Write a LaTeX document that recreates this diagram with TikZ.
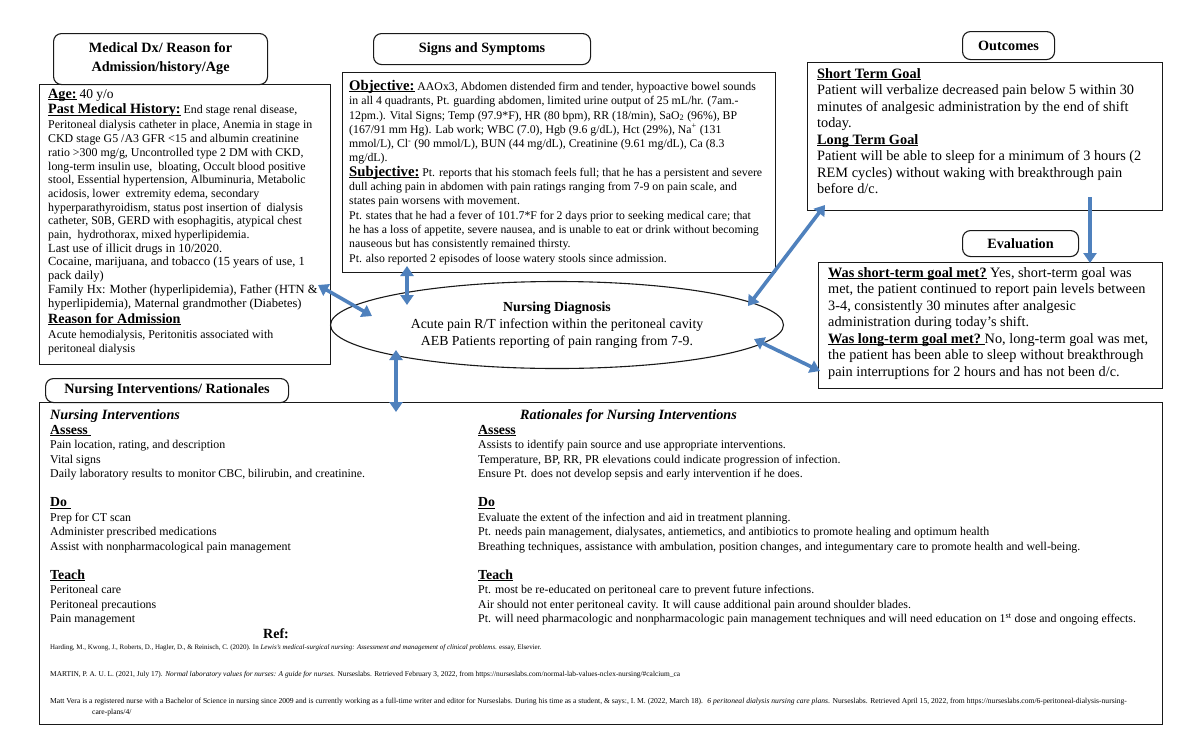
\documentclass[tikz,border=0pt]{standalone}
\usepackage{fontspec}
\setmainfont{Liberation Serif}
\usetikzlibrary{arrows.meta,shapes.geometric}
\definecolor{arrowblue}{RGB}{79,129,189}
\definecolor{ink}{RGB}{25,25,25}
\newcommand{\fsz}[2]{\fontsize{#1}{#2}\selectfont}
\newcommand{\ulin}[1]{{\setbox0\hbox{#1}\rlap{\rule[-1.7pt]{\wd0}{0.8pt}}\box0}}
\newcommand{\hdg}[1]{\ulin{\textbf{#1}}}
\begin{document}
\begin{tikzpicture}[x=1pt,y=-1pt,
  box/.style={draw=ink,line width=1.3pt,anchor=north west,inner sep=0pt},
  titlebox/.style={draw=ink,fill=white,line width=1.1pt,rounded corners=8pt,anchor=north west,inner sep=0pt,align=center,font=\bfseries\fsz{14.2}{19}},
  txt/.style={anchor=north west,inner sep=0pt,align=left,text=black},
  link/.style={draw=arrowblue,line width=3.6pt,{Triangle[width=13pt,length=10pt]}-{Triangle[width=13pt,length=10pt]}},
  onelink/.style={draw=arrowblue,line width=3.6pt,-{Triangle[width=13pt,length=10pt]}}
]
\useasboundingbox[fill=white] (0,0) rectangle (1200,729);

% ---------- boxes ----------
\node[box,minimum width=291pt,minimum height=280pt] (hist) at (39,84) {};
\node[box,minimum width=433pt,minimum height=200pt] (signs) at (342,72) {};
\node[box,minimum width=355pt,minimum height=148pt] (outc) at (807,62) {};
\node[box,minimum width=344pt,minimum height=126pt] (evalb) at (818,262) {};
\node[box,minimum width=1123pt,minimum height=322pt] (inter) at (39,402) {};

% ---------- titles ----------
\node[titlebox,minimum width=214pt,minimum height=51pt] (thist) at (53,33) {Medical Dx/ Reason for\\Admission/history/Age};
\node[titlebox,minimum width=217pt,minimum height=31pt] (tsigns) at (373,33) {Signs and Symptoms};
\node[titlebox,minimum width=92pt,minimum height=28pt] (toutc) at (962,31) {Outcomes};
\node[titlebox,minimum width=116pt,minimum height=26pt] (teval) at (962,230) {Evaluation};
\node[titlebox,minimum width=243pt,minimum height=24pt] (tinter) at (45,378) {Nursing Interventions/ Rationales};

% ---------- diagnosis ----------
\node[draw=ink,line width=1.1pt,ellipse,minimum width=453pt,minimum height=87pt,inner sep=0pt,align=center,font=\fsz{13.8}{17}] (dx) at (557,325)
  {\textbf{Nursing Diagnosis}\\Acute pain R/T infection within the peritoneal cavity\\AEB Patients reporting of pain ranging from 7-9.};

% ---------- history text ----------
\node[txt,font=\fsz{11.9}{13.7}] (histtxt) at (48,89) {%
{\fsz{14.2}{13.7}\hdg{Age:}} {\fsz{13.5}{13.7}40 y/o}\\[1.5pt]
{\fsz{14.2}{13.7}\hdg{Past Medical History:}} End stage renal disease,\\[1.5pt]
Peritoneal dialysis catheter in place, Anemia in stage in\\
CKD stage G5 /A3 GFR <15 and albumin creatinine\\
ratio >300 mg/g, Uncontrolled type 2 DM with CKD,\\
long-term insulin use,\ \ bloating, Occult blood positive\\
stool, Essential hypertension, Albuminuria, Metabolic\\
acidosis, lower\ \ extremity edema, secondary\\
hyperparathyroidism, status post insertion of\ \ dialysis\\
catheter, S0B, GERD with esophagitis, atypical chest\\
pain,\ \ hydrothorax, mixed hyperlipidemia.\\
{\fsz{12.4}{13.7}Last use of illicit drugs in 10/2020.}\\
{\fsz{12.4}{13.7}Cocaine, marijuana, and tobacco (15 years of use, 1}\\
{\fsz{12.4}{13.7}pack daily)}\\
{\fsz{12.5}{13.7}Family Hx: Mother (hyperlipidemia), Father (HTN \&}\\
{\fsz{12.5}{13.7}hyperlipidemia), Maternal grandmother (Diabetes)}\\[2.5pt]
{\fsz{14.1}{13.7}\hdg{Reason for Admission}}\\[1.5pt]
{\fsz{11.9}{13.7}Acute hemodialysis, Peritonitis associated with}\\
{\fsz{11.9}{13.7}peritoneal dialysis}};

% ---------- signs text ----------
\node[txt,font=\fsz{11.8}{14.3}] (signstxt) at (349,80) {%
{\fsz{14.7}{14.3}\hdg{Objective:}} AAOx3, Abdomen distended firm and tender, hypoactive bowel sounds\\
in all 4 quadrants, Pt. guarding abdomen, limited urine output of 25 mL/hr. (7am.-\\
12pm.). Vital Signs; Temp (97.9*F), HR (80 bpm), RR (18/min), SaO\textsubscript{2} (96\%), BP\\
(167/91 mm Hg). Lab work; WBC (7.0), Hgb (9.6 g/dL), Hct (29\%), Na\textsuperscript{+} (131\\
mmol/L), Cl\textsuperscript{-} (90 mmol/L), BUN (44 mg/dL), Creatinine (9.61 mg/dL), Ca (8.3\\
mg/dL).\\
{\fsz{14.7}{14.3}\hdg{Subjective:}} Pt. reports that his stomach feels full; that he has a persistent and severe\\
dull aching pain in abdomen with pain ratings ranging from 7-9 on pain scale, and\\
states pain worsens with movement.\\
Pt. states that he had a fever of 101.7*F for 2 days prior to seeking medical care; that\\
he has a loss of appetite, severe nausea, and is unable to eat or drink without becoming\\
nauseous but has consistently remained thirsty.\\
Pt. also reported 2 episodes of loose watery stools since admission.};

% ---------- outcomes text ----------
\node[txt,font=\fsz{14.3}{16.5}] (outctxt) at (817,68) {%
\hdg{Short Term Goal}\\
Patient will verbalize decreased pain below 5 within 30\\
minutes of analgesic administration by the end of shift\\
today.\\
\hdg{Long Term Goal}\\
Patient will be able to sleep for a minimum of 3 hours (2\\
REM cycles) without waking with breakthrough pain\\
before d/c.};

% ---------- evaluation text ----------
\node[txt,font=\fsz{14.3}{16.5}] (evaltxt) at (828,267) {%
\hdg{Was short-term goal met?} Yes, short-term goal was\\
met, the patient continued to report pain levels between\\
3-4, consistently 30 minutes after analgesic\\
administration during today’s shift.\\
\hdg{Was long-term goal met?\ }No, long-term goal was met,\\
the patient has been able to sleep without breakthrough\\
pain interruptions for 2 hours and has not been d/c.};

% ---------- interventions ----------
\node[txt,font=\bfseries\itshape\fsz{14.2}{14}] (nihead) at (50,409) {Nursing Interventions};
\node[txt,font=\bfseries\itshape\fsz{14.2}{14}] (rhead) at (520,409) {Rationales for Nursing Interventions};
\node[txt,font=\fsz{11.9}{14.5}] (nitxt) at (50,425) {%
{\fsz{13.8}{14.5}\hdg{Assess\ }}\\
Pain location, rating, and description\\
Vital signs\\
Daily laboratory results to monitor CBC, bilirubin, and creatinine.\\
\strut\\
{\fsz{13.8}{14.5}\hdg{Do\ }}\\
Prep for CT scan\\
Administer prescribed medications\\
Assist with nonpharmacological pain management\\
\strut\\
{\fsz{13.8}{14.5}\hdg{Teach}}\\
Peritoneal care\\
Peritoneal precautions\\
Pain management};
\node[txt,font=\fsz{11.9}{14.5}] (rtxt) at (478,425) {%
{\fsz{13.8}{14.5}\hdg{Assess}}\\
Assists to identify pain source and use appropriate interventions.\\
Temperature, BP, RR, PR elevations could indicate progression of infection.\\
Ensure Pt. does not develop sepsis and early intervention if he does.\\
\strut\\
{\fsz{13.8}{14.5}\hdg{Do}}\\
Evaluate the extent of the infection and aid in treatment planning.\\
Pt. needs pain management, dialysates, antiemetics, and antibiotics to promote healing and optimum health\\
Breathing techniques, assistance with ambulation, position changes, and integumentary care to promote health and well-being.\\
\strut\\
{\fsz{13.8}{14.5}\hdg{Teach}}\\
Pt. most be re-educated on peritoneal care to prevent future infections.\\
Air should not enter peritoneal cavity. It will cause additional pain around shoulder blades.\\
Pt. will need pharmacologic and nonpharmacologic pain management techniques and will need education on 1\textsuperscript{st} dose and ongoing effects.};

% ---------- references ----------
\node[font=\bfseries\fsz{14}{14}] (refhead) at (276,634) {Ref:};
\node[txt,font=\fsz{6.95}{9}] (ref1) at (50,644) {Harding, M., Kwong, J., Roberts, D., Hagler, D., \& Reinisch, C. (2020). In \textit{Lewis's medical-surgical nursing: Assessment and management of clinical problems}. essay, Elsevier.};
\node[txt,font=\fsz{7.4}{9}] (ref2) at (50,671) {MARTIN, P. A. U. L. (2021, July 17). \textit{Normal laboratory values for nurses: A guide for nurses}. Nurseslabs. Retrieved February 3, 2022, from https://nurseslabs.com/normal-lab-values-nclex-nursing/\#calcium\_ca};
\node[txt,font=\fsz{7.6}{11}] (ref3) at (50,698) {Matt Vera is a registered nurse with a Bachelor of Science in nursing since 2009 and is currently working as a full-time writer and editor for Nurseslabs. During his time as a student, \& says:, I. M. (2022, March 18). \ \textit{6 peritoneal dialysis nursing care plans}. Nurseslabs. Retrieved April 15, 2022, from https://nurseslabs.com/6-peritoneal-dialysis-nursing-\\
\hspace*{42pt}care-plans/4/};

% ---------- connectors ----------
\coordinate (h1) at (318,285);  \coordinate (d1) at (372,316);
\coordinate (s1) at (407,266);  \coordinate (d2) at (407,305);
\coordinate (o1) at (825,205);  \coordinate (d3) at (748,306);
\coordinate (d4) at (396,350);  \coordinate (i1) at (396,412);
\coordinate (d5) at (754,339);  \coordinate (e1) at (820,371);
\coordinate (o2) at (1090,197); \coordinate (e2) at (1090,263);
\draw[link] (h1) -- (d1);
\draw[link] (s1) -- (d2);
\draw[link] (o1) -- (d3);
\draw[link] (d4) -- (i1);
\draw[link] (d5) -- (e1);
\draw[onelink] (o2) -- (e2);
\end{tikzpicture}
\end{document}
